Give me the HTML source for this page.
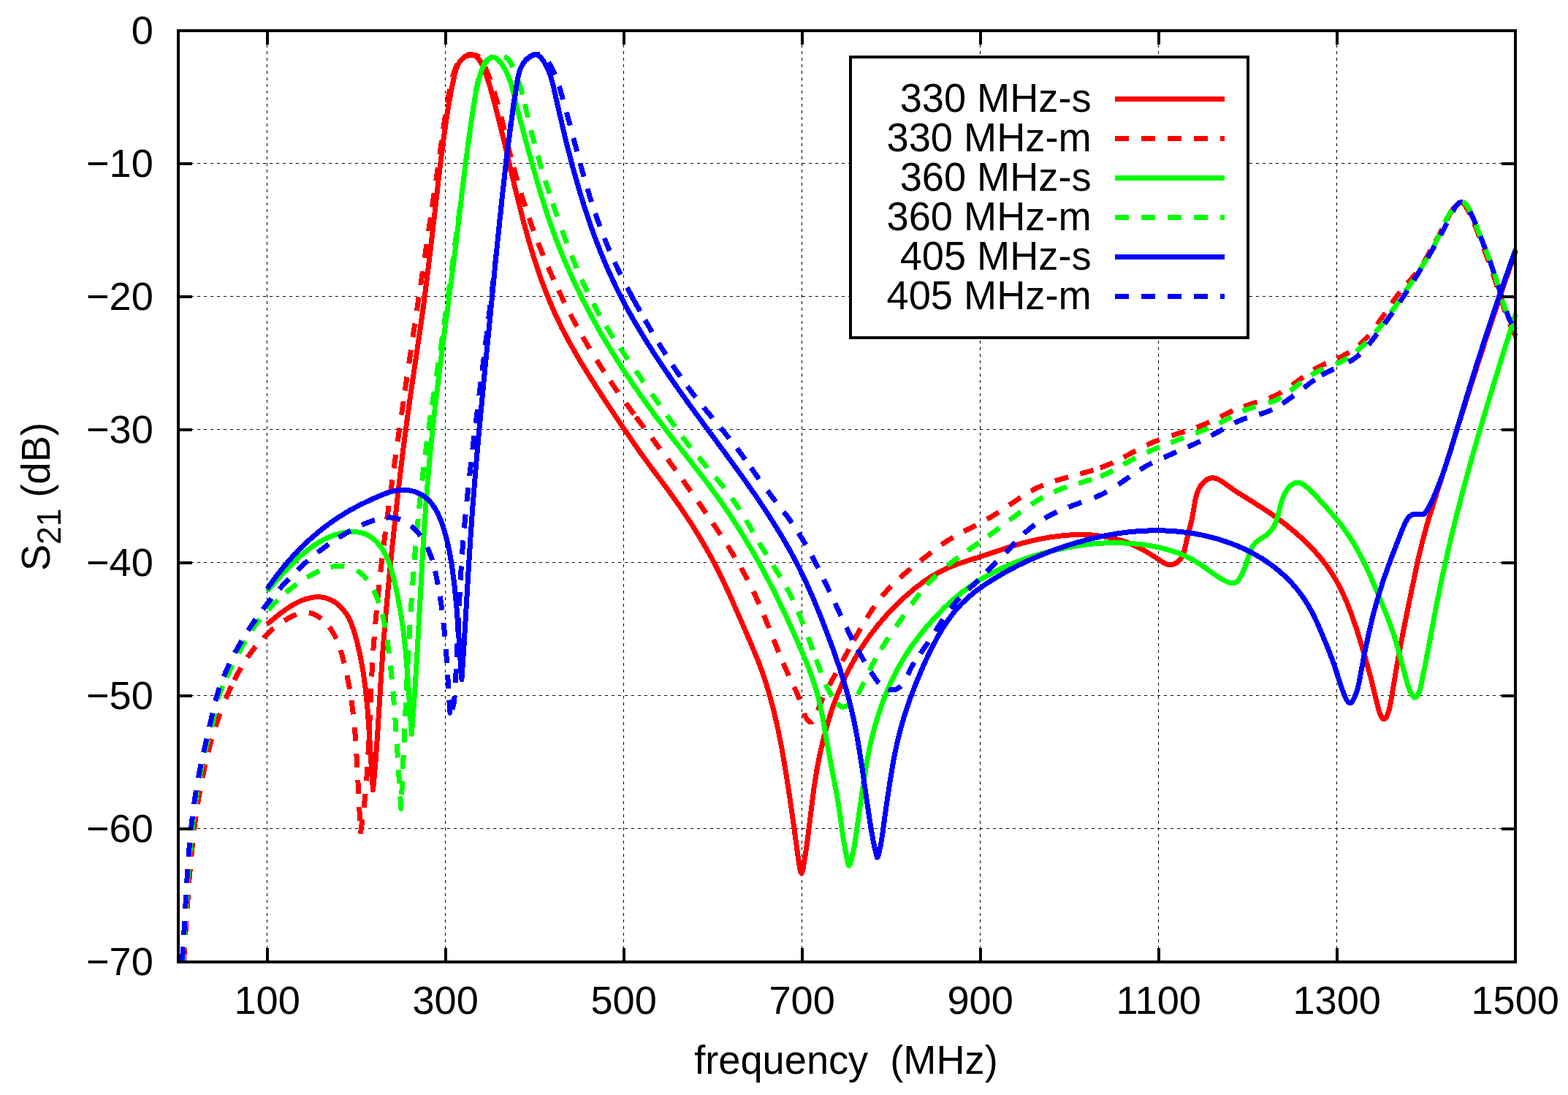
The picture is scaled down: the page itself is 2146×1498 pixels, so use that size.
<!DOCTYPE html>
<html lang="en">
<head>
<meta charset="utf-8">
<title>S21 (dB) versus frequency (MHz)</title>
<style>
html, body { margin: 0; padding: 0; background: #fff; }
body { width: 2146px; height: 1498px; overflow: hidden; }
svg { display: block; }
text { font-family: "Liberation Sans", "DejaVu Sans", sans-serif; font-size: 54.2px; fill: #000; }
.frame { fill: none; stroke: #000; stroke-width: 4; shape-rendering: crispEdges; }
.tick { stroke: #000; stroke-width: 4; fill: none; shape-rendering: crispEdges; }
.grid { stroke: #000; stroke-width: 1; stroke-dasharray: 4 5; fill: none; shape-rendering: crispEdges; }
.c { fill: none; stroke-width: 7; stroke-linejoin: round; stroke-linecap: butt; shape-rendering: crispEdges; }
.d { stroke-dasharray: 19 17; }
.r { stroke: #ff0000; }
.g { stroke: #00ff00; }
.b { stroke: #0000ff; }
</style>
</head>
<body>
<svg xmlns="http://www.w3.org/2000/svg" width="2146" height="1498" viewBox="0 0 2146 1498">
<rect x="0" y="0" width="2146" height="1498" fill="#ffffff"/>

<g class="grid">
<line x1="365.5" y1="1316.0" x2="365.5" y2="42.0"/>
<line x1="609.5" y1="1316.0" x2="609.5" y2="42.0"/>
<line x1="853.5" y1="1316.0" x2="853.5" y2="42.0"/>
<line x1="1097.5" y1="1316.0" x2="1097.5" y2="42.0"/>
<line x1="1341.5" y1="1316.0" x2="1341.5" y2="42.0"/>
<line x1="1585.5" y1="1316.0" x2="1585.5" y2="42.0"/>
<line x1="1829.5" y1="1316.0" x2="1829.5" y2="42.0"/>
<line x1="243.0" y1="223.5" x2="2074.0" y2="223.5"/>
<line x1="243.0" y1="405.5" x2="2074.0" y2="405.5"/>
<line x1="243.0" y1="587.5" x2="2074.0" y2="587.5"/>
<line x1="243.0" y1="769.5" x2="2074.0" y2="769.5"/>
<line x1="243.0" y1="951.5" x2="2074.0" y2="951.5"/>
<line x1="243.0" y1="1133.5" x2="2074.0" y2="1133.5"/>
</g>
<clipPath id="plot"><rect x="242.0" y="40.0" width="1835.0" height="1278.0"/></clipPath>
<g clip-path="url(#plot)">
<path class="c r" d="M365.5,853.9 L383.8,839.1 L393.7,831.9 L402.9,826.3 L411.2,822.2 L418.5,819.5 L425.8,817.6 L431.8,816.8 L437.6,816.7 L443.3,817.4 L448.8,819.0 L454.1,821.3 L459.1,824.3 L463.7,827.9 L469.0,833.2 L473.6,839.1 L477.5,845.5 L480.6,852.3 L484.2,862.3 L488.7,878.4 L493.1,897.5 L496.9,918.2 L500.0,940.4 L502.8,967.1 L505.4,1002.9 L507.8,1041.8 L510.4,1079.2 L510.6,1080.7 L514.0,1041.9 L516.8,1003.0 L519.2,964.1 L521.6,925.2 L524.3,886.3 L527.4,847.5 L530.9,808.6 L534.6,769.8 L538.6,731.0 L542.8,692.3 L547.2,653.5 L551.8,614.9 L556.9,576.2 L562.2,537.6 L567.9,499.1 L573.6,460.5 L579.1,421.9 L584.1,383.2 L588.8,344.5 L593.3,305.8 L597.7,267.1 L602.2,228.4 L607.1,189.7 L612.2,154.1 L617.1,126.0 L622.1,102.4 L624.1,95.2 L626.3,89.7 L628.4,85.8 L631.0,82.3 L634.2,79.0 L638.0,76.2 L640.9,74.9 L643.9,74.3 L646.8,74.7 L649.6,75.9 L652.2,77.7 L655.3,80.9 L657.8,84.6 L661.1,91.4 L666.0,104.0 L671.0,119.8 L679.3,150.2 L688.7,188.0 L697.5,225.8 L706.5,263.7 L716.0,301.6 L724.9,333.5 L733.3,360.8 L741.6,384.9 L750.2,407.2 L759.0,427.8 L768.7,448.1 L779.8,469.2 L793.2,492.6 L809.8,519.5 L831.0,552.3 L852.7,584.7 L874.7,616.8 L893.2,642.2 L916.5,673.3 L932.2,695.4 L947.1,717.9 L961.2,740.9 L973.8,763.1 L985.5,785.7 L997.0,810.1 L1012.7,845.7 L1028.2,881.5 L1038.0,905.1 L1045.2,924.8 L1051.9,946.2 L1058.2,969.2 L1064.0,994.0 L1069.9,1023.4 L1076.2,1060.5 L1082.1,1099.3 L1087.5,1137.7 L1092.7,1175.9 L1094.9,1189.0 L1096.0,1193.3 L1096.8,1194.6 L1097.2,1194.6 L1097.9,1193.3 L1099.4,1187.0 L1104.5,1154.5 L1109.3,1115.5 L1114.0,1078.3 L1117.9,1053.3 L1122.5,1029.7 L1127.7,1007.8 L1133.3,987.5 L1139.7,967.5 L1146.6,949.3 L1154.2,931.4 L1162.1,915.3 L1170.8,899.6 L1180.2,884.3 L1190.5,869.5 L1201.5,855.2 L1213.3,841.6 L1225.7,828.5 L1238.8,816.2 L1251.3,805.5 L1263.3,796.5 L1274.4,789.0 L1286.1,782.3 L1296.9,777.1 L1308.1,772.6 L1325.3,766.8 L1352.5,758.1 L1384.7,747.3 L1403.4,742.0 L1421.1,737.8 L1437.6,734.8 L1454.2,732.7 L1469.3,731.6 L1482.8,731.4 L1496.2,732.1 L1509.5,733.6 L1521.2,735.8 L1532.7,738.8 L1543.9,742.6 L1554.9,747.3 L1565.6,752.8 L1578.6,760.7 L1592.8,769.9 L1596.8,771.7 L1599.5,772.5 L1602.3,772.7 L1605.2,772.2 L1608.1,771.2 L1612.0,768.8 L1615.1,765.8 L1617.5,762.2 L1619.4,758.2 L1621.2,752.4 L1625.9,731.2 L1631.0,711.6 L1633.2,699.7 L1635.8,684.3 L1637.6,676.9 L1639.7,671.2 L1642.3,666.0 L1644.9,662.4 L1647.9,659.1 L1651.3,656.5 L1655.0,654.6 L1657.6,653.9 L1660.3,653.8 L1663.0,654.2 L1667.2,655.7 L1672.7,658.8 L1689.7,671.0 L1723.2,692.1 L1742.0,704.6 L1757.8,716.2 L1771.9,727.6 L1784.2,738.7 L1795.9,750.3 L1805.9,761.4 L1815.1,773.1 L1822.7,784.1 L1829.6,795.6 L1836.5,808.8 L1843.3,823.9 L1849.8,840.8 L1857.2,862.3 L1868.1,898.2 L1876.4,928.3 L1883.4,957.2 L1886.8,971.0 L1888.9,977.2 L1891.3,981.5 L1892.2,982.7 L1893.1,983.5 L1894.0,983.9 L1895.0,983.7 L1895.9,983.0 L1897.6,980.6 L1899.6,976.1 L1901.5,970.0 L1903.6,959.5 L1910.0,920.8 L1916.9,882.6 L1924.4,844.4 L1932.3,806.1 L1940.3,767.9 L1946.9,740.2 L1954.0,714.3 L1965.6,677.1 L1977.5,640.0 L1989.3,602.8 L2001.0,565.7 L2012.8,528.5 L2024.7,491.4 L2036.7,454.3 L2049.0,417.3 L2061.5,380.4 L2074.5,343.6"/>
<path class="c r" d="M251.4,1314.4 L252.7,1295.5 M253.8,1278.9 L253.9,1276.6 L255.0,1260.0 M256.1,1243.1 L256.5,1237.7 L257.5,1224.1 M258.7,1207.8 L259.3,1198.9 L260.3,1188.8 M261.8,1171.7 L262.9,1160.1 L263.7,1152.8 M265.7,1135.7 L266.8,1125.9 L268.1,1116.8 M270.6,1100.2 L271.1,1096.3 L273.7,1081.4 M277.0,1064.1 L280.9,1045.5 M284.9,1029.1 L287.2,1019.9 L289.9,1010.8 M295.0,994.1 L300.2,978.5 L301.1,976.1 M308.9,956.1 L315.4,941.1 L316.6,938.7 M320.8,930.2 L323.4,925.0 L329.9,913.5 M338.7,899.5 L339.5,898.2 L347.5,887.4 L350.1,884.4 M360.6,872.6 L364.6,868.5 L373.7,860.3 L374.6,859.7 M389.0,849.2 L391.2,847.8 L399.1,843.4 L405.8,840.4 M422.7,838.4 L424.2,838.6 L428.4,839.8 L432.5,841.6 L437.7,844.9 L439.7,846.5 M450.6,857.8 L452.5,860.2 L456.5,866.5 L460.3,874.1 M466.0,889.3 L468.4,897.2 L471.1,907.6 M474.9,924.0 L477.5,936.6 L478.5,942.7 M481.1,958.4 L481.1,958.8 L483.4,977.3 M485.2,994.8 L486.7,1012.3 L486.8,1013.7 M487.8,1031.2 L489.0,1050.2 M489.8,1066.7 L490.7,1085.7 M491.7,1104.0 L492.7,1123.0 M493.6,1136.1 L493.7,1138.0 L496.1,1121.1 M498.1,1104.7 L500.1,1085.8 M501.5,1068.4 L502.8,1051.7 L502.9,1049.4 M503.8,1032.6 L504.9,1013.6 M505.6,996.8 L506.3,977.8 M507.1,961.0 L507.9,942.0 M508.7,925.5 L509.8,906.5 M510.8,890.0 L512.3,871.0 M513.6,854.1 L515.4,835.2 M516.9,819.0 L517.0,818.2 L518.9,800.1 M520.8,782.6 L521.1,779.5 L523.0,763.7 M525.1,746.2 L525.8,740.8 L527.5,727.3 M529.6,710.7 L530.7,702.1 L532.1,691.9 M534.4,675.2 L536.0,663.5 L536.9,656.4 M539.1,640.6 L541.3,624.9 L541.7,621.8 M544.2,604.2 L546.8,586.3 L546.9,585.4 M549.5,567.7 L552.2,548.9 M554.3,534.5 L557.0,515.7 M559.7,497.5 L562.5,478.7 M565.0,461.3 L567.8,442.5 M570.4,425.2 L573.2,406.4 M575.7,389.9 L578.5,371.2 M581.2,352.9 L584.0,334.1 M586.6,316.2 L589.4,297.4 M591.5,283.0 L592.3,277.7 L594.2,264.2 M596.6,247.6 L597.9,239.2 L599.4,228.8 M601.8,211.5 L603.4,200.7 L604.5,192.7 M606.8,176.1 L608.8,162.2 L609.6,157.3 M612.2,140.7 L613.0,135.5 L615.7,122.1 M619.6,105.6 L620.7,101.1 L623.2,93.8 L625.8,88.5 L626.2,87.9 M638.0,77.3 L638.5,77.0 L643.0,75.7 L647.6,75.2 L650.5,75.5 L653.1,76.3 L655.5,77.7 L656.0,78.1 M664.1,91.9 L670.2,107.3 L671.0,109.6 M676.2,124.9 L681.5,143.1 M685.7,159.5 L689.3,173.7 L690.3,178.0 M694.8,196.9 L698.3,211.4 L699.4,215.3 M703.0,229.0 L706.4,241.8 L708.1,247.3 M713.1,264.3 L715.4,272.1 L718.9,282.4 M724.1,298.2 L724.9,300.6 L730.5,316.0 M736.5,332.0 L743.5,349.7 M750.1,365.4 L757.7,382.8 M764.5,397.1 L771.2,411.3 L772.7,414.2 M780.7,429.9 L784.8,437.9 L789.7,446.7 M797.5,460.8 L798.6,462.8 L807.1,477.1 M816.6,492.7 L826.8,508.7 M835.2,521.1 L844.5,534.8 L845.9,536.8 M856.5,551.4 L865.6,563.9 L867.8,566.7 M870.4,570.2 L881.8,585.4 M892.1,599.0 L903.4,614.3 M913.7,628.1 L924.8,643.4 M934.4,656.7 L935.3,657.9 L945.4,672.2 M955.5,686.5 L957.8,689.7 L966.3,702.1 M975.6,715.6 L979.8,721.9 L986.1,731.5 M995.8,746.3 L997.0,748.2 L1005.7,762.5 M1014.1,776.9 L1022.6,792.2 L1023.2,793.5 M1031.1,809.1 L1032.0,810.9 L1039.0,826.4 M1045.4,841.7 L1052.1,857.9 L1052.6,859.3 M1058.7,874.8 L1065.7,892.4 M1072.0,907.1 L1075.9,916.2 L1079.7,924.4 M1086.8,939.8 L1090.3,947.3 L1094.3,957.3 M1100.5,975.6 L1101.7,979.1 L1103.8,983.1 L1105.6,985.5 L1107.7,987.3 L1108.8,987.8 L1109.8,987.9 L1110.8,987.5 L1111.8,986.7 L1112.1,986.4 M1119.3,972.0 L1120.5,968.9 L1124.9,957.7 L1126.5,954.4 M1134.9,937.7 L1144.0,921.0 M1152.9,904.6 L1162.0,888.0 M1168.5,876.2 L1177.9,859.8 M1186.5,845.3 L1192.5,835.8 L1196.9,829.4 M1207.1,815.9 L1209.4,813.0 L1218.4,803.0 L1219.7,801.8 M1231.9,790.2 L1242.7,780.9 L1246.4,777.9 M1259.7,767.4 L1267.5,761.2 L1274.7,755.7 M1288.6,745.2 L1297.8,739.0 L1304.6,735.0 M1319.0,727.1 L1335.8,718.4 M1350.6,710.4 L1354.3,708.4 L1366.9,700.7 M1381.2,691.1 L1396.9,680.4 M1410.8,671.8 L1411.2,671.6 L1421.8,666.2 L1428.0,663.7 M1443.9,657.9 L1446.9,656.9 L1462.1,652.7 M1478.3,648.2 L1493.4,644.1 L1496.6,643.1 M1505.7,640.0 L1507.7,639.4 L1518.8,634.9 L1523.3,632.8 M1537.7,625.6 L1554.5,616.7 M1569.3,609.0 L1577.6,605.2 L1586.8,601.6 M1603.5,596.0 L1611.6,593.4 L1621.5,590.2 M1637.7,584.7 L1645.6,581.7 L1655.2,577.3 M1670.2,570.1 L1682.0,564.3 L1687.4,562.0 M1702.3,556.1 L1710.0,553.4 L1720.4,550.1 M1736.8,544.7 L1744.1,541.8 L1752.0,537.7 L1753.9,536.5 M1768.3,526.9 L1774.3,522.6 L1783.7,515.7 M1798.0,505.9 L1801.5,503.6 L1810.8,498.9 L1814.8,497.1 M1829.8,490.6 L1834.2,488.7 L1842.2,484.5 L1846.6,481.7 M1859.9,472.0 L1867.3,465.3 L1873.4,458.6 M1884.9,443.9 L1893.0,432.3 L1895.7,428.2 M1904.8,414.9 L1908.2,409.8 L1915.9,399.5 M1926.1,387.7 L1937.0,375.4 L1938.6,373.4 M1948.4,359.2 L1949.8,357.1 L1957.8,342.7 M1964.9,329.9 L1968.9,322.7 L1973.8,313.2 M1980.5,300.2 L1984.4,292.6 L1988.5,285.7 L1990.0,283.7 M2001.6,276.9 L2002.2,277.3 L2004.2,279.4 L2008.6,286.5 L2011.8,292.7 M2017.8,306.0 L2019.3,309.5 L2024.7,323.7 M2031.0,340.5 L2033.1,346.1 L2037.6,358.3 M2043.2,373.9 L2048.8,391.4 L2049.0,392.0 M2054.4,409.3 L2058.2,421.5 L2060.3,427.4 M2066.4,443.2 L2069.1,449.4 L2074.5,460.1"/>
<path class="c g" d="M365.5,808.6 L391.4,780.0 L404.2,767.0 L414.4,757.8 L423.9,750.3 L432.5,744.3 L441.5,739.0 L451.0,734.5 L459.5,731.4 L468.2,729.1 L475.7,727.9 L483.1,727.5 L489.0,727.8 L494.7,728.9 L500.2,730.6 L505.3,733.2 L510.2,736.5 L514.6,740.5 L519.6,746.0 L523.9,752.1 L527.6,758.6 L531.3,766.9 L534.9,777.0 L538.6,790.3 L543.9,814.0 L548.3,837.4 L552.0,862.3 L555.1,890.5 L558.0,926.5 L560.6,965.6 L563.3,1004.3 L566.3,965.4 L568.9,926.5 L571.3,887.6 L573.4,848.7 L575.6,809.8 L577.7,770.8 L580.1,731.9 L582.7,693.0 L585.7,654.2 L589.2,615.3 L593.2,576.6 L597.7,537.9 L602.5,499.2 L607.5,460.5 L612.6,421.9 L617.7,383.2 L622.7,344.5 L627.4,305.9 L631.9,267.1 L636.6,228.4 L641.6,189.8 L647.2,151.2 L651.7,124.6 L655.0,110.0 L658.3,98.5 L661.4,90.0 L663.4,86.0 L665.2,83.5 L667.5,81.4 L670.4,79.7 L673.5,78.7 L675.1,78.5 L676.5,78.6 L677.9,79.0 L680.3,80.4 L683.5,83.6 L688.0,89.6 L691.8,96.0 L695.6,104.1 L699.2,113.9 L702.8,127.0 L711.4,162.2 L721.5,199.6 L731.9,237.2 L742.5,273.2 L752.3,303.2 L761.5,328.6 L771.5,353.6 L783.0,379.7 L795.2,405.3 L808.3,430.6 L822.9,456.8 L839.1,483.8 L856.0,510.4 L874.6,537.7 L894.7,565.7 L917.4,595.6 L941.4,626.3 L965.2,657.1 L983.9,682.4 L1000.0,705.8 L1015.4,729.8 L1030.8,755.6 L1045.4,781.8 L1059.9,809.8 L1074.8,840.8 L1090.9,876.3 L1103.9,906.6 L1110.9,924.8 L1116.1,940.4 L1120.7,957.6 L1125.2,978.1 L1131.3,1012.1 L1137.7,1047.8 L1145.1,1086.2 L1149.1,1110.9 L1154.5,1149.2 L1158.4,1171.2 L1160.9,1182.5 L1161.7,1184.2 L1162.2,1184.2 L1163.2,1182.5 L1166.1,1172.6 L1168.8,1160.6 L1171.3,1144.4 L1176.1,1110.3 L1181.7,1071.7 L1186.4,1042.0 L1190.8,1019.9 L1195.7,999.5 L1201.1,980.8 L1207.3,962.4 L1213.9,945.7 L1221.2,929.3 L1228.7,914.7 L1236.9,900.4 L1245.9,886.5 L1256.6,871.9 L1267.9,857.8 L1281.0,843.2 L1293.5,830.4 L1305.6,819.3 L1317.1,809.9 L1329.1,801.1 L1341.6,793.0 L1356.0,784.9 L1370.8,777.5 L1386.0,770.9 L1403.0,764.5 L1420.2,759.0 L1439.1,753.8 L1458.1,749.5 L1475.7,746.4 L1493.4,744.2 L1511.2,743.0 L1527.6,742.6 L1544.0,743.2 L1560.5,744.6 L1575.6,746.8 L1588.9,749.5 L1602.1,753.1 L1613.4,757.0 L1624.4,761.6 L1633.6,766.4 L1642.5,771.9 L1665.6,788.3 L1673.4,793.0 L1680.3,796.4 L1684.5,797.6 L1687.2,797.9 L1689.7,797.4 L1692.1,796.2 L1694.2,794.3 L1697.1,790.4 L1700.3,784.3 L1705.5,771.9 L1708.5,762.3 L1711.4,753.3 L1713.3,749.1 L1715.8,745.3 L1718.8,742.1 L1723.5,738.6 L1733.5,732.0 L1736.8,729.1 L1739.7,725.9 L1743.0,720.9 L1745.6,715.5 L1748.2,708.3 L1754.3,684.9 L1756.9,677.9 L1759.7,672.6 L1763.2,667.6 L1766.4,664.2 L1770.0,661.7 L1772.5,660.6 L1775.0,660.1 L1777.6,660.2 L1780.3,661.0 L1784.2,663.1 L1789.4,667.1 L1798.7,676.2 L1815.5,694.3 L1829.2,710.2 L1839.4,723.4 L1847.9,735.8 L1856.5,749.9 L1865.0,765.8 L1874.0,784.6 L1885.3,810.8 L1899.9,846.9 L1906.6,865.3 L1911.4,881.1 L1918.9,908.3 L1923.6,925.7 L1926.9,937.7 L1929.6,945.0 L1932.5,950.5 L1934.2,953.0 L1935.1,953.8 L1936.1,954.2 L1937.2,954.0 L1938.2,953.3 L1940.1,951.0 L1942.3,946.7 L1944.2,940.5 L1952.1,901.7 L1959.2,863.7 L1966.5,825.2 L1974.3,787.0 L1982.8,749.0 L1991.9,711.1 L2001.6,673.4 L2011.9,635.8 L2022.5,598.3 L2033.6,560.9 L2044.9,523.5 L2056.4,486.3 L2068.1,449.1 L2074.5,429.2"/>
<path class="c g" d="M250.1,1314.4 L251.3,1295.5 M252.3,1278.9 L252.4,1276.7 L253.4,1260.0 M254.4,1243.1 L254.7,1237.8 L255.6,1224.1 M256.6,1207.8 L257.2,1198.8 L258.0,1188.8 M259.4,1171.7 L260.3,1160.0 L261.1,1152.8 M262.8,1135.7 L263.8,1125.7 L265.0,1116.8 M267.2,1100.2 L267.9,1094.5 L270.1,1081.4 M273.0,1064.1 L276.6,1045.4 M280.3,1029.2 L282.2,1021.1 L285.0,1010.8 M289.4,994.3 L291.6,986.3 L293.9,975.9 M298.6,956.4 L301.3,947.3 L304.8,938.5 M310.1,926.8 L314.0,918.7 L318.5,909.7 M326.5,893.7 L328.8,889.2 L335.5,877.0 M344.6,862.2 L345.5,860.8 L353.4,849.9 L355.9,847.0 M367.0,834.3 L373.3,827.6 L380.3,820.8 M391.4,810.8 L396.5,806.4 L406.3,799.0 M420.1,789.9 L429.2,784.8 L437.0,781.1 M452.5,775.8 L454.8,775.2 L460.7,774.4 L466.6,774.3 L471.4,774.7 M488.4,780.5 L489.1,780.9 L493.9,784.2 L498.3,788.2 L502.6,793.0 M511.5,807.5 L511.8,808.1 L516.1,818.0 L518.6,825.1 M523.2,840.2 L523.8,842.5 L527.0,857.1 L527.3,858.8 M529.9,875.1 L530.1,876.3 L532.3,894.0 M534.4,910.6 L536.3,929.5 M537.9,945.7 L538.1,947.7 L539.4,964.6 M540.8,982.0 L541.1,986.6 L542.1,1001.0 M543.2,1017.6 L543.7,1025.5 L544.4,1036.5 M545.4,1053.0 L546.1,1064.4 L546.6,1072.0 M547.8,1089.4 L548.7,1103.2 L548.9,1106.2 L549.0,1104.0 M549.7,1087.5 L550.6,1068.5 M551.3,1052.0 L552.2,1033.0 M553.0,1015.6 L553.8,996.6 M554.6,980.1 L555.5,961.1 M556.2,944.6 L557.2,925.6 M558.0,909.1 L559.1,890.2 M560.0,873.7 L560.0,872.7 L561.1,854.7 M562.2,837.2 L562.4,833.8 L563.4,818.3 M564.6,800.8 L565.0,794.9 L566.1,781.9 M567.3,765.7 L568.0,756.1 L568.9,746.7 M570.4,728.9 L571.5,717.3 L572.2,709.9 M573.6,695.8 L575.3,678.6 L575.5,676.9 M577.7,657.7 L579.7,639.9 L579.8,638.8 M581.9,622.5 L584.4,603.6 M586.7,586.8 L589.4,568.0 M591.3,554.6 L594.2,535.8 M597.3,514.9 L600.1,496.1 M602.7,479.0 L605.5,460.2 M607.8,444.0 L610.5,425.2 M612.9,408.2 L615.4,389.4 M617.8,371.6 L618.1,369.9 L620.3,352.8 M622.5,336.4 L623.2,331.3 L625.0,317.6 M627.2,301.2 L628.3,292.7 L629.6,282.3 M631.8,265.9 L633.4,254.1 L634.3,247.1 M636.5,230.7 L638.5,215.4 L639.0,211.9 M641.2,195.5 L643.7,176.8 L643.8,176.6 M646.0,160.2 L648.6,141.4 M651.2,125.1 L651.7,121.8 L654.3,110.2 L655.5,106.6 M661.6,91.2 L664.1,86.6 L666.8,83.0 L669.8,79.9 L673.4,77.6 L674.0,77.4 M690.1,77.6 L691.4,78.1 L693.9,79.8 L696.1,81.8 L698.7,85.4 L702.0,91.8 M709.9,111.4 L711.8,117.2 L715.1,129.6 M718.2,142.3 L722.5,160.8 M726.7,178.0 L731.4,196.4 M736.0,212.9 L741.0,230.4 L741.3,231.2 M746.2,246.8 L752.0,264.9 M756.5,278.2 L762.6,296.2 M769.3,315.1 L775.8,332.9 M782.2,349.5 L787.1,361.9 L789.4,367.1 M796.0,382.5 L797.3,385.3 L804.1,399.6 M812.0,415.2 L818.1,426.8 L821.1,431.9 M829.4,446.1 L839.6,462.2 M848.7,476.0 L859.3,491.7 M870.1,507.3 L880.9,522.9 M892.0,538.7 L902.9,554.2 M912.9,568.3 L923.9,583.8 M933.7,597.4 L945.0,612.0 L945.3,612.4 M956.1,625.4 L965.1,636.2 L968.3,640.0 M978.9,652.7 L987.3,662.7 L990.9,667.5 M1001.6,681.6 L1009.5,692.8 L1012.3,697.3 M1021.0,711.5 L1030.6,727.9 M1039.1,742.7 L1039.3,743.1 L1049.0,758.9 M1058.0,773.5 L1068.0,789.6 M1076.4,803.9 L1079.6,809.7 L1085.1,820.8 M1092.3,836.8 L1094.7,842.4 L1099.4,854.4 M1105.9,871.6 L1112.5,889.4 M1117.2,902.4 L1117.8,904.0 L1123.8,920.3 M1129.9,935.9 L1132.0,940.6 L1136.9,949.9 L1138.8,952.7 M1145.6,961.9 L1146.8,963.3 L1149.0,965.2 L1151.3,966.6 L1153.7,967.2 L1156.4,966.8 L1159.1,965.8 L1162.0,963.9 M1173.9,950.3 L1174.7,949.0 L1180.3,938.0 L1182.5,933.4 M1190.0,917.6 L1193.8,909.5 L1198.6,900.7 M1205.8,888.5 L1211.7,878.8 L1216.0,872.5 M1226.4,857.2 L1228.5,854.0 L1237.2,841.6 M1247.4,826.9 L1248.5,825.5 L1258.9,811.8 M1268.5,800.4 L1269.1,799.7 L1278.3,790.0 L1281.7,786.8 M1296.8,773.7 L1302.0,769.5 L1311.9,762.2 M1324.4,753.2 L1339.9,742.3 M1352.5,733.4 L1367.8,722.2 M1381.6,711.7 L1396.8,700.2 M1411.4,690.0 L1412.3,689.4 L1425.0,681.6 L1427.7,680.2 M1442.4,672.9 L1448.0,670.5 L1460.1,666.1 M1476.1,661.3 L1494.3,655.8 M1506.0,651.7 L1507.9,651.0 L1517.5,646.8 L1523.2,643.6 M1537.6,635.5 L1548.9,629.0 L1554.2,626.3 M1569.6,619.0 L1581.4,613.8 L1587.1,611.6 M1602.5,605.6 L1606.5,604.0 L1620.2,598.8 M1636.2,592.7 L1642.9,590.2 L1653.8,585.6 M1668.4,579.0 L1675.7,575.5 L1685.3,570.4 M1700.8,562.6 L1707.9,559.5 L1718.0,556.3 L1718.6,556.1 M1735.9,551.3 L1743.8,548.5 L1750.4,545.2 L1753.2,543.5 M1765.8,534.6 L1768.9,532.3 L1780.8,522.9 M1794.4,513.2 L1802.0,508.8 L1811.3,504.6 M1828.1,498.1 L1831.1,496.9 L1839.1,492.9 L1844.9,489.4 M1856.3,480.9 L1864.3,473.8 L1870.2,467.9 M1882.2,454.9 L1885.8,450.9 L1894.3,440.2 M1903.7,427.4 L1910.0,418.7 L1914.6,411.8 M1923.5,398.7 L1931.9,386.3 L1934.1,383.0 M1943.4,368.9 L1947.7,362.4 L1953.5,352.9 M1962.0,337.7 L1963.9,334.1 L1969.9,320.8 L1970.0,320.6 M1977.3,304.2 L1982.2,295.1 L1987.0,287.8 M2001.9,276.6 L2003.6,277.3 L2005.8,279.1 L2008.6,282.7 L2011.9,288.4 L2013.2,291.4 M2019.8,307.6 L2026.8,325.3 M2033.2,341.4 L2040.0,358.5 L2040.2,359.0 M2045.4,374.5 L2050.8,392.8 M2055.9,410.3 L2055.9,410.4 L2060.3,423.1 L2062.4,428.1 M2069.8,443.5 L2074.5,451.0"/>
<path class="c b" d="M365.5,805.9 L375.9,791.2 L387.0,777.0 L398.7,763.3 L411.2,750.3 L424.2,737.8 L436.7,727.1 L449.7,717.0 L463.2,707.7 L477.2,699.1 L491.6,691.3 L509.3,682.8 L524.9,676.1 L533.6,673.1 L540.9,671.3 L548.3,670.3 L554.3,670.3 L560.1,670.9 L565.9,672.2 L571.4,674.1 L576.6,676.6 L581.4,679.7 L585.8,683.4 L590.6,688.7 L594.9,694.7 L599.3,702.7 L603.1,711.2 L607.3,723.0 L611.5,737.9 L615.1,754.0 L618.3,772.9 L621.8,799.3 L625.0,832.2 L627.9,871.4 L630.5,910.4 L631.9,929.7 L634.5,890.8 L636.9,851.9 L639.2,813.0 L641.5,774.1 L644.0,735.2 L646.7,696.3 L649.8,657.4 L653.1,618.6 L656.6,579.8 L660.3,540.9 L664.0,502.1 L667.9,463.3 L671.7,424.5 L675.5,385.8 L679.3,347.0 L683.2,308.2 L687.3,269.5 L691.6,230.7 L696.4,192.0 L701.6,153.3 L707.4,114.6 L709.6,102.8 L711.6,95.7 L714.0,90.3 L717.1,85.2 L720.1,81.6 L723.7,78.4 L727.5,75.9 L730.2,74.9 L732.7,74.6 L735.2,75.2 L737.5,76.4 L740.7,79.3 L743.6,83.1 L747.7,90.1 L751.0,97.3 L754.1,105.9 L757.2,117.4 L765.7,155.0 L774.6,192.9 L784.4,230.7 L793.9,263.9 L803.4,294.1 L812.8,321.0 L822.5,346.2 L832.4,369.6 L843.1,392.7 L854.6,415.3 L867.7,438.8 L882.3,463.2 L899.2,489.7 L919.4,519.5 L942.0,551.4 L965.1,582.9 L988.4,614.3 L1011.4,645.8 L1033.9,677.6 L1052.1,704.9 L1067.2,729.0 L1080.7,752.2 L1092.0,773.4 L1102.5,795.0 L1113.5,819.7 L1125.4,849.0 L1139.2,885.5 L1149.5,915.2 L1157.5,940.8 L1163.7,963.9 L1169.0,987.2 L1174.1,1013.8 L1179.8,1049.5 L1185.3,1088.2 L1191.0,1126.6 L1195.3,1151.6 L1199.5,1170.3 L1200.3,1172.7 L1200.8,1173.0 L1201.2,1172.5 L1202.2,1169.8 L1205.3,1156.4 L1207.9,1140.4 L1212.5,1106.2 L1218.3,1067.7 L1223.3,1037.9 L1227.6,1017.3 L1232.6,997.0 L1238.9,975.5 L1246.1,954.4 L1254.7,932.1 L1264.7,908.5 L1274.4,888.0 L1282.9,871.9 L1291.3,857.6 L1298.9,846.5 L1307.1,835.9 L1315.0,827.0 L1323.5,818.7 L1333.7,810.1 L1345.8,801.3 L1359.7,792.3 L1376.6,782.4 L1393.9,773.3 L1411.5,765.0 L1430.9,756.9 L1450.6,749.6 L1470.6,743.2 L1490.9,737.6 L1509.9,733.3 L1529.1,729.9 L1546.8,727.6 L1564.7,726.2 L1582.6,725.7 L1599.0,726.1 L1615.4,727.4 L1631.8,729.5 L1648.1,732.6 L1662.8,736.3 L1677.2,740.7 L1691.3,745.9 L1705.0,752.0 L1717.0,758.2 L1728.6,765.0 L1739.7,772.6 L1750.2,780.8 L1760.2,789.8 L1768.5,798.4 L1776.3,807.5 L1783.5,817.2 L1790.1,827.3 L1796.6,839.2 L1803.7,854.1 L1818.1,888.5 L1825.5,908.2 L1832.1,928.5 L1837.0,943.3 L1842.0,955.6 L1843.7,958.7 L1845.8,961.0 L1846.9,961.7 L1848.0,962.0 L1849.1,961.7 L1850.0,960.9 L1851.6,958.4 L1854.9,951.5 L1857.5,944.3 L1860.0,934.1 L1867.1,895.7 L1873.3,866.3 L1880.0,838.6 L1886.9,814.1 L1894.1,791.3 L1903.7,764.5 L1917.8,728.0 L1923.0,715.5 L1925.8,710.4 L1928.6,707.0 L1932.2,704.2 L1933.6,703.4 L1949.2,703.3 L1952.8,698.5 L1956.5,692.1 L1962.2,680.0 L1969.6,662.2 L1977.3,641.2 L1986.0,614.1 L1997.2,576.7 L2008.4,539.4 L2019.9,502.3 L2031.8,465.3 L2044.0,428.4 L2056.5,391.7 L2069.4,355.0 L2074.5,340.9"/>
<path class="c b" d="M249.4,1314.4 L250.6,1295.5 M251.7,1279.0 L251.8,1276.7 L252.7,1260.0 M253.7,1243.1 L253.9,1237.8 L254.7,1224.1 M255.7,1207.8 L256.2,1198.9 L256.9,1188.8 M258.2,1171.7 L259.0,1160.0 L259.7,1152.8 M261.4,1135.7 L262.3,1125.8 L263.5,1116.8 M265.6,1100.1 L266.1,1096.1 L268.4,1081.4 M271.4,1064.1 L275.0,1045.5 M278.7,1029.4 L282.9,1010.8 M286.7,994.3 L290.9,975.8 M294.9,959.1 L296.5,952.8 L300.3,940.9 M306.1,925.6 L313.2,909.6 L313.9,908.2 M321.5,893.2 L322.0,892.2 L330.8,876.6 M339.5,862.7 L342.0,858.8 L350.1,847.0 M359.9,833.6 L366.6,824.8 L371.7,818.7 M382.2,806.1 L393.0,794.2 L395.1,792.1 M407.4,779.8 L419.8,768.3 L421.4,767.0 M434.7,755.9 L447.9,746.0 L450.0,744.6 M463.5,735.6 L475.7,728.2 L479.9,726.0 M495.2,718.4 L501.6,715.5 L511.7,711.8 L512.8,711.5 M529.3,708.1 L533.6,707.9 L539.4,708.5 L545.1,709.9 L547.9,711.0 M562.4,719.5 L567.8,724.2 L572.9,729.7 L575.5,733.2 M584.7,748.8 L586.0,751.4 L589.9,761.3 L591.5,766.5 M595.4,781.2 L597.3,789.3 L599.3,799.8 M602.2,815.8 L605.0,834.6 M606.9,851.8 L608.1,863.0 L608.8,870.7 M610.2,887.8 L611.1,898.9 L611.6,906.8 M612.6,923.1 L613.6,937.9 L613.8,942.0 M614.8,957.5 L616.0,975.2 L616.6,974.1 M618.6,970.6 L620.0,967.0 L621.3,961.2 L622.2,952.2 L622.2,952.1 M623.3,933.7 L624.4,914.7 M625.1,898.8 L626.1,879.8 M626.8,863.9 L627.6,844.9 M628.3,829.0 L629.3,810.1 M630.1,793.5 L631.4,774.5 M632.4,758.4 L632.5,757.6 L634.0,739.4 M635.4,722.5 L635.7,718.8 L637.2,703.6 M638.9,686.2 L639.5,680.1 L640.9,667.3 M642.6,651.1 L643.7,641.4 L644.8,632.2 M646.8,615.0 L648.2,602.7 L649.0,596.1 M651.2,578.8 L653.0,564.0 L653.5,559.9 M655.8,541.2 L657.8,525.3 L658.1,522.3 M660.0,506.9 L662.4,488.1 M664.3,472.2 L666.7,453.4 M668.7,436.2 L671.0,417.4 M673.1,400.2 L675.3,381.3 M677.3,364.0 L679.4,345.1 M681.3,328.0 L683.3,309.1 M685.1,292.2 L687.0,273.3 M688.8,256.4 L689.0,254.5 L690.9,237.5 M692.7,220.7 L693.2,215.8 L695.0,201.8 M697.0,184.9 L698.0,177.0 L699.5,166.1 M701.9,149.3 L703.5,138.2 L704.7,130.5 M707.5,113.8 L708.4,108.3 L710.4,99.6 L711.9,95.3 M721.0,81.2 L723.9,78.8 L727.8,76.4 L731.8,74.8 L734.5,74.3 L737.2,74.4 L738.1,74.6 M750.7,85.3 L752.4,87.8 L757.1,96.6 L759.5,102.1 M765.3,117.9 L765.8,119.3 L770.6,136.2 M775.4,153.4 L780.3,171.7 M784.8,188.8 L784.9,189.1 L789.7,207.2 M794.1,223.4 L795.0,227.0 L799.2,241.7 M803.9,258.0 L805.0,261.7 L809.6,276.2 M814.7,291.8 L821.0,309.7 M827.2,325.7 L832.0,337.8 L834.4,343.3 M841.2,358.6 L841.6,359.7 L849.4,375.7 M858.4,393.4 L867.4,410.5 L876.1,425.8 M882.8,437.8 L885.1,441.9 L892.4,454.2 M901.3,469.1 L903.5,472.9 L911.4,485.2 M920.5,499.5 L931.2,515.2 M940.7,528.4 L948.1,538.4 L952.2,543.5 M963.1,557.2 L965.9,560.7 L975.1,571.9 M986.1,585.1 L990.8,590.7 L998.1,599.9 M1008.7,613.3 L1019.9,628.6 M1027.9,639.9 L1038.8,655.4 M1050.4,671.2 L1058.6,682.2 L1061.9,686.4 M1072.5,700.1 L1077.9,707.0 L1083.8,715.4 M1092.9,729.2 L1098.5,738.1 L1102.8,745.5 M1111.2,760.5 L1119.9,777.3 M1127.4,792.6 L1135.6,809.8 M1142.9,825.3 L1150.9,842.6 M1158.4,858.3 L1165.9,873.8 L1166.7,875.4 M1173.8,888.7 L1176.4,893.6 L1183.2,905.2 M1191.9,919.1 L1196.0,925.4 L1201.3,932.7 L1203.0,934.6 M1215.6,943.0 L1216.9,943.5 L1220.1,943.9 L1223.3,943.8 L1226.3,943.1 L1228.9,941.8 L1232.5,939.1 L1233.0,938.5 M1242.5,923.0 L1242.7,922.6 L1247.3,912.9 L1251.3,906.2 M1259.6,894.1 L1261.3,891.7 L1270.5,878.5 M1280.2,863.4 L1290.4,847.4 M1301.1,832.4 L1308.1,823.9 L1313.6,818.1 M1325.4,806.4 L1339.2,793.3 M1350.5,782.2 L1364.0,768.8 M1376.4,756.0 L1389.5,742.3 M1401.8,730.0 L1405.6,726.4 L1413.7,719.8 L1416.3,717.9 M1429.8,709.2 L1433.7,706.8 L1445.7,700.8 L1446.6,700.4 M1462.3,693.8 L1476.5,688.5 L1480.2,687.2 M1497.6,680.9 L1507.2,676.7 L1514.7,672.7 M1530.5,662.8 L1546.2,652.1 M1560.2,642.7 L1569.2,637.2 L1576.7,633.3 M1592.8,625.9 L1601.7,622.0 L1610.2,618.2 M1625.6,611.5 L1633.3,608.1 L1642.8,603.5 M1657.6,596.1 L1668.0,590.4 L1674.2,586.9 M1689.2,578.7 L1695.7,575.6 L1704.2,572.5 L1706.9,571.7 M1723.3,566.9 L1728.8,565.3 L1737.2,562.1 L1741.0,560.2 M1755.2,552.1 L1756.7,551.2 L1768.9,542.4 L1770.7,541.1 M1784.5,530.6 L1795.2,522.3 L1799.7,519.3 M1808.8,513.4 L1815.2,509.7 L1825.6,504.7 M1845.7,495.3 L1850.6,492.6 L1856.7,488.3 L1861.2,484.4 M1873.0,471.6 L1877.1,466.7 L1884.7,456.6 M1894.9,443.0 L1905.9,427.4 M1915.7,413.2 L1926.2,397.3 M1935.1,383.4 L1945.2,367.3 M1954.0,352.6 L1963.6,336.2 M1971.5,321.8 L1976.9,311.9 L1980.3,305.0 M1988.5,288.7 L1988.6,288.6 L1991.5,283.2 L1994.3,279.7 L1996.7,277.7 L1999.4,276.5 L2000.8,276.3 L2001.5,276.4 M2011.9,289.6 L2012.9,291.4 L2018.5,303.6 L2019.8,306.9 M2026.2,323.1 L2027.8,327.3 L2032.9,340.9 M2038.9,356.5 L2041.0,362.3 L2045.1,374.5 M2050.2,390.1 L2055.9,408.2 M2061.6,425.6 L2066.0,437.7 L2068.1,441.6 L2069.2,442.9"/>
</g>
<g class="tick">
<line x1="366.0" y1="1316.0" x2="366.0" y2="1297.0"/>
<line x1="366.0" y1="42.0" x2="366.0" y2="61.0"/>
<line x1="610.0" y1="1316.0" x2="610.0" y2="1297.0"/>
<line x1="610.0" y1="42.0" x2="610.0" y2="61.0"/>
<line x1="854.0" y1="1316.0" x2="854.0" y2="1297.0"/>
<line x1="854.0" y1="42.0" x2="854.0" y2="61.0"/>
<line x1="1098.0" y1="1316.0" x2="1098.0" y2="1297.0"/>
<line x1="1098.0" y1="42.0" x2="1098.0" y2="61.0"/>
<line x1="1342.0" y1="1316.0" x2="1342.0" y2="1297.0"/>
<line x1="1342.0" y1="42.0" x2="1342.0" y2="61.0"/>
<line x1="1586.0" y1="1316.0" x2="1586.0" y2="1297.0"/>
<line x1="1586.0" y1="42.0" x2="1586.0" y2="61.0"/>
<line x1="1830.0" y1="1316.0" x2="1830.0" y2="1297.0"/>
<line x1="1830.0" y1="42.0" x2="1830.0" y2="61.0"/>
<line x1="244.0" y1="224.0" x2="263.0" y2="224.0"/>
<line x1="2074.0" y1="224.0" x2="2055.0" y2="224.0"/>
<line x1="244.0" y1="406.0" x2="263.0" y2="406.0"/>
<line x1="2074.0" y1="406.0" x2="2055.0" y2="406.0"/>
<line x1="244.0" y1="588.0" x2="263.0" y2="588.0"/>
<line x1="2074.0" y1="588.0" x2="2055.0" y2="588.0"/>
<line x1="244.0" y1="770.0" x2="263.0" y2="770.0"/>
<line x1="2074.0" y1="770.0" x2="2055.0" y2="770.0"/>
<line x1="244.0" y1="952.0" x2="263.0" y2="952.0"/>
<line x1="2074.0" y1="952.0" x2="2055.0" y2="952.0"/>
<line x1="244.0" y1="1134.0" x2="263.0" y2="1134.0"/>
<line x1="2074.0" y1="1134.0" x2="2055.0" y2="1134.0"/>
</g>
<rect class="frame" x="244.0" y="42.0" width="1830.0" height="1274.0"/>
<text x="209.8" y="60.2" text-anchor="end">0</text>
<text x="209.8" y="242.2" text-anchor="end">−10</text>
<text x="209.8" y="424.2" text-anchor="end">−20</text>
<text x="209.8" y="606.2" text-anchor="end">−30</text>
<text x="209.8" y="788.2" text-anchor="end">−40</text>
<text x="209.8" y="970.2" text-anchor="end">−50</text>
<text x="209.8" y="1152.2" text-anchor="end">−60</text>
<text x="209.8" y="1334.2" text-anchor="end">−70</text>
<text x="365.7" y="1387.4" text-anchor="middle">100</text>
<text x="609.7" y="1387.4" text-anchor="middle">300</text>
<text x="853.7" y="1387.4" text-anchor="middle">500</text>
<text x="1097.7" y="1387.4" text-anchor="middle">700</text>
<text x="1341.7" y="1387.4" text-anchor="middle">900</text>
<text x="1585.7" y="1387.4" text-anchor="middle">1100</text>
<text x="1829.7" y="1387.4" text-anchor="middle">1300</text>
<text x="2073.7" y="1387.4" text-anchor="middle">1500</text>
<text transform="translate(1158,1468.8) scale(1,1.035)" text-anchor="middle" xml:space="preserve">frequency  (MHz)</text>
<text transform="translate(67.5,679.6) rotate(-90) scale(1,1.035)" text-anchor="middle">S<tspan font-size="44.5" dy="14.8">21</tspan><tspan dy="-14.8"> (dB)</tspan></text>
<rect x="1164.0" y="78.0" width="544.0" height="384.0" fill="#fff" stroke="#000" stroke-width="4" shape-rendering="crispEdges"/>
<text transform="translate(1493.6,153.0) scale(1,1.035)" text-anchor="end">330 MHz-s</text>
<path class="c r" d="M1526,135.3 L1676,135.3"/>
<text transform="translate(1493.6,207.1) scale(1,1.035)" text-anchor="end">330 MHz-m</text>
<path class="c r d" d="M1526,189.4 L1676,189.4"/>
<text transform="translate(1493.6,261.1) scale(1,1.035)" text-anchor="end">360 MHz-s</text>
<path class="c g" d="M1526,243.4 L1676,243.4"/>
<text transform="translate(1493.6,315.1) scale(1,1.035)" text-anchor="end">360 MHz-m</text>
<path class="c g d" d="M1526,297.4 L1676,297.4"/>
<text transform="translate(1493.6,369.2) scale(1,1.035)" text-anchor="end">405 MHz-s</text>
<path class="c b" d="M1526,351.5 L1676,351.5"/>
<text transform="translate(1493.6,423.2) scale(1,1.035)" text-anchor="end">405 MHz-m</text>
<path class="c b d" d="M1526,405.6 L1676,405.6"/>
</svg>
</body>
</html>
